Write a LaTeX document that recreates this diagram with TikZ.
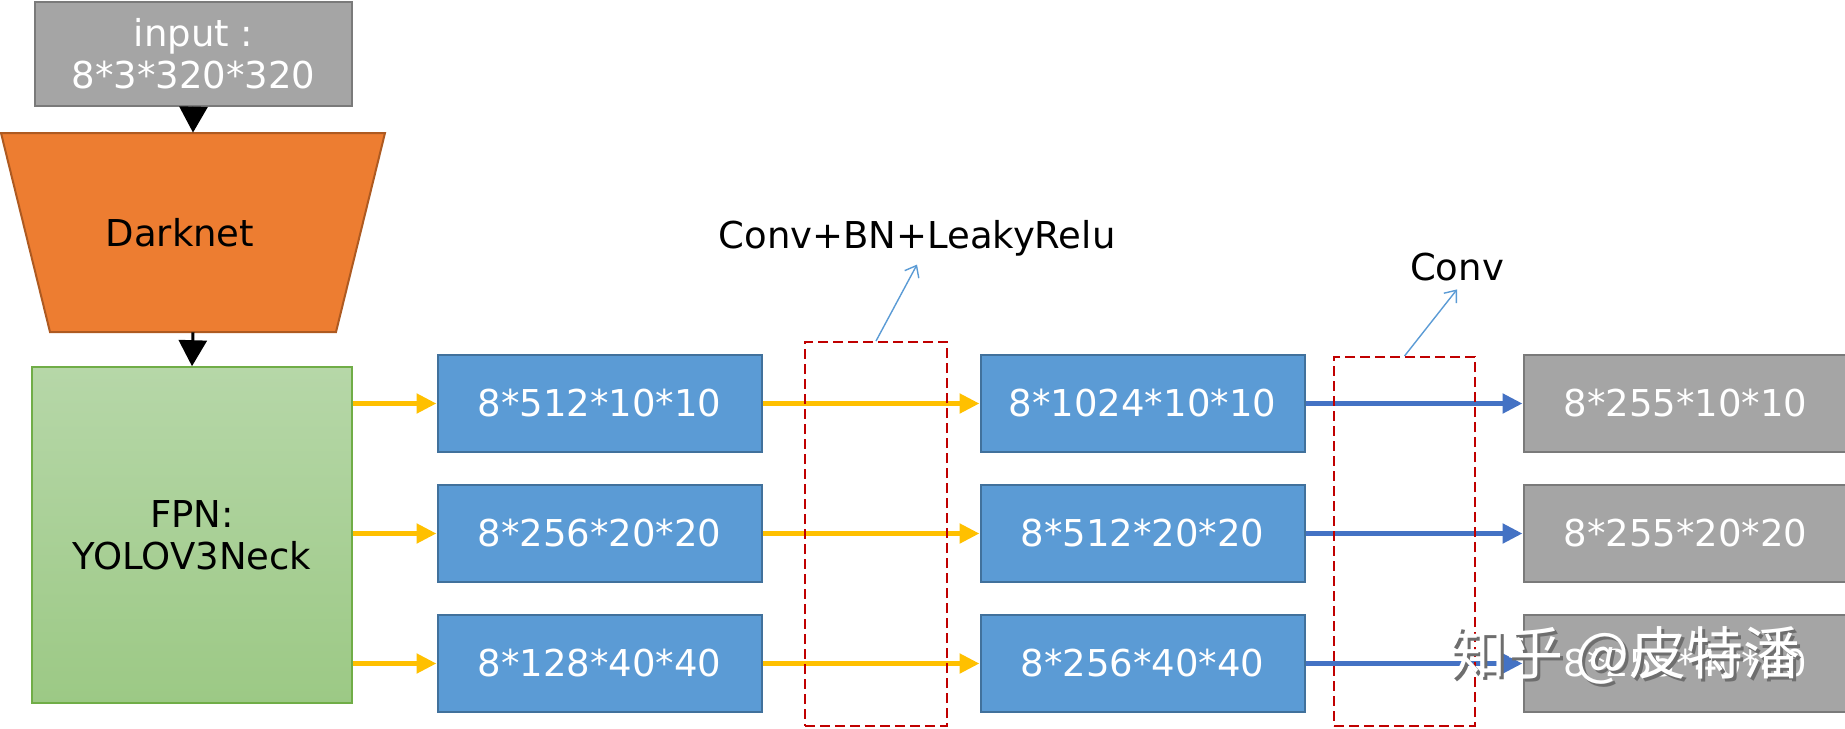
\documentclass[tikz,border=0pt]{standalone}
\usepackage{fontspec}
\setmainfont{DejaVu Sans}
\newfontfamily\cjk{Noto Sans CJK SC}
\usetikzlibrary{chains,matrix,arrows.meta}
\definecolor{boxgray}{HTML}{A5A5A5}
\definecolor{grayedge}{HTML}{7A7A7A}
\definecolor{featblue}{HTML}{5B9BD5}
\definecolor{featedge}{HTML}{41719C}
\definecolor{darkorange}{HTML}{ED7D31}
\definecolor{orangeedge}{HTML}{AE5A21}
\definecolor{fpntop}{HTML}{B6D7A8}
\definecolor{fpnbot}{HTML}{9CC985}
\definecolor{fpnedge}{HTML}{70AD47}
\definecolor{arrowyellow}{HTML}{FFC000}
\definecolor{arrowblue}{HTML}{4472C4}
\definecolor{dashred}{HTML}{C00000}
\definecolor{wmgray}{HTML}{6E6E6E}
\newcommand{\fmap}[3]{\node(#1)[#2]{#3}}

\begin{document}
\begin{tikzpicture}[
        x=0.5pt, y=-0.5pt,
        start chain,
        every node/.style={font=\fontsize{18.5}{21}\selectfont},
        featbox/.style={rectangle,minimum width=162pt,minimum height=48.5pt,
                        fill=featblue,draw=featedge,line width=1pt,text=white},
        outbox/.style={rectangle,minimum width=162pt,minimum height=48.5pt,
                       fill=boxgray,draw=grayedge,line width=1pt,text=white},
        grpbox/.style={rectangle,draw=dashred,line width=1pt,
                       dash pattern=on 5pt off 2.5pt},
        blk/.style={draw=black,line width=1.5pt,-{Triangle[length=13pt,width=14pt]}},
        yel/.style={draw=arrowyellow,line width=2.5pt,-{Triangle[length=10pt,width=9.5pt]}},
        blu/.style={draw=arrowblue,line width=2.5pt,-{Triangle[length=10pt,width=9.5pt]}},
        ptr/.style={draw=featblue,line width=0.7pt,-{Straight Barb[length=5pt,width=8pt]}}
      ]
      \useasboundingbox (0,0) rectangle (1845,728);

      % Backbone: input -> Darknet -> FPN
      \node (input) [outbox,minimum width=158.5pt,minimum height=52pt,align=center]
            at (193.5,54) {input :\\8*3*320*320};
      % Darknet is a trapezium, wide on top
      \draw[fill=darkorange,draw=orangeedge,line width=1pt]
            (1,133) -- (385,133) -- (336,332) -- (50,332) -- cycle;
      \node (dark) [rectangle,minimum width=192pt,minimum height=99.5pt,inner sep=0pt]
            at (193,232.5) {Darknet\hspace*{13pt}};
      \node (fpn) [rectangle,minimum width=160pt,minimum height=168pt,
                   top color=fpntop,bottom color=fpnbot,draw=fpnedge,line width=0.8pt,
                   align=center] at (192,535) {FPN:\\YOLOV3Neck};
      \draw[blk] (input.south) -- (dark.north);
      \draw[blk] (dark.south) -- (fpn.north);

      % The feature maps are drawn in a matrix
      % \\ delimits the rows while & delimits the columns
      \matrix[row sep=15.5pt, column sep=108.5pt] at (1142.5,533.5) {
        % Row 1: stride 32
        \fmap{a1}{featbox}{8*512*10*10}; & \fmap{b1}{featbox}{8*1024*10*10}; & \fmap{c1}{outbox}{8*255*10*10};\\
        % Row 2: stride 16
        \fmap{a2}{featbox}{8*256*20*20}; & \fmap{b2}{featbox}{8*512*20*20}; & \fmap{c2}{outbox}{8*255*20*20};\\
        % Row 3: stride 8
        \fmap{a3}{featbox}{8*128*40*40}; & \fmap{b3}{featbox}{8*256*40*40}; & \fmap{c3}{outbox}{8*255*40*40};\\
      };

      % FPN outputs into the first column
      \draw[yel] (fpn.east |- a1) -- (a1);
      \draw[yel] (fpn.east |- a2) -- (a2);
      \draw[yel] (fpn.east |- a3) -- (a3);

      % Horizontal chains, one per row
      {
        [start chain] \chainin(a1); \chainin(b1) [join=by yel]; \chainin(c1) [join=by blu];
        [start chain] \chainin(a2); \chainin(b2) [join=by yel]; \chainin(c2) [join=by blu];
        [start chain] \chainin(a3); \chainin(b3) [join=by yel]; \chainin(c3) [join=by blu];
      }

      % Dashed groups and their labels
      \node (grp1) [grpbox,minimum width=71pt,minimum height=192pt] at (876,534) {};
      \node (grp2) [grpbox,minimum width=70.5pt,minimum height=184.5pt] at (1404.5,541.5) {};
      \node (lab1) [inner sep=4pt,anchor=base] at (917,248.5) {Conv+BN+LeakyRelu};
      \node (lab2) [inner sep=4pt,anchor=base] at (1457,280.5) {Conv};
      \draw[ptr] (grp1.north) -- (lab1.south);
      \draw[ptr] (grp2.north) -- (lab2.south);

      % Watermark
      \node (wmshade) [font=\cjk\fontsize{28.5}{30}\selectfont,text=wmgray] at (1628,658) {知乎 @皮特潘};
      \node (wm) [font=\cjk\fontsize{28.5}{30}\selectfont,text=white] at (1625,655) {知乎 @皮特潘};
    \end{tikzpicture}
\end{document}
